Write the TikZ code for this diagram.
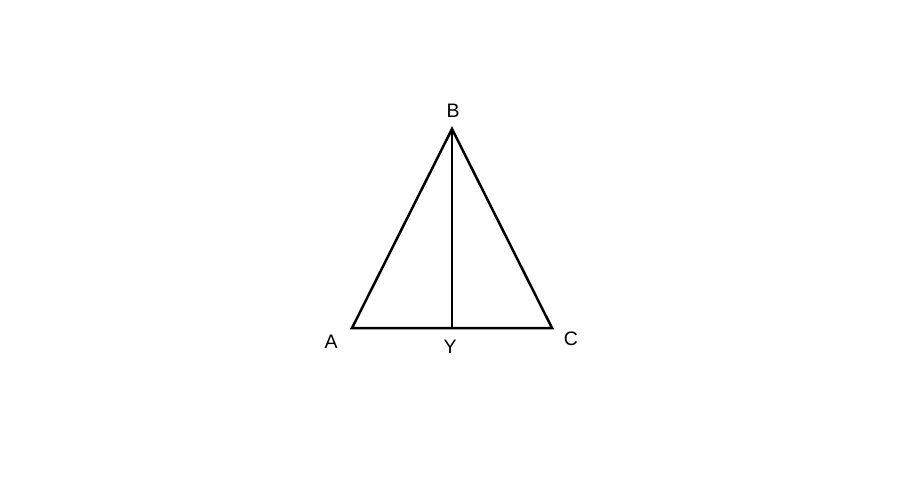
\documentclass[tikz,border=0pt]{standalone}
\usepackage{fontspec}
\setmainfont{Liberation Sans}
\begin{document}
\begin{tikzpicture}[x=1pt,y=-1pt,
  edge/.style={line width=2.5pt,line join=miter,line cap=butt},
  lbl/.style={inner sep=0pt,font=\fontsize{19.5}{22}\selectfont}]
\useasboundingbox[fill=white] (0,0) rectangle (917,502);
\coordinate (A) at (352,328);
\coordinate (B) at (452,129);
\coordinate (C) at (552,328);
\coordinate (Y) at (452,328);
\draw[edge] (A) -- (B) -- (C) -- cycle;
\draw[edge] (B) -- (Y);
\node[lbl] (lA) at (331,342) {A};
\node[lbl] (lB) at (453,111) {B};
\node[lbl] (lC) at (571,339) {C};
\node[lbl] (lY) at (450,347) {Y};
\end{tikzpicture}
\end{document}
